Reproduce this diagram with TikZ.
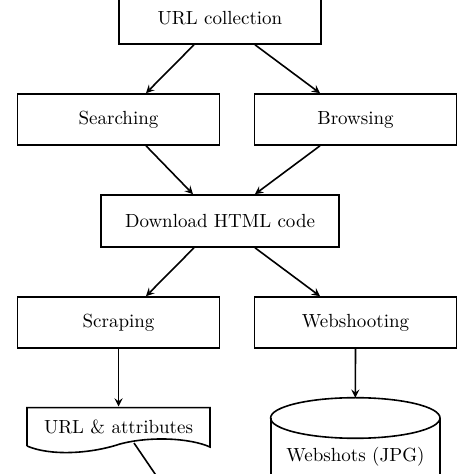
\documentclass[tikz,border=0pt]{standalone}
\usepackage{amsmath}
\usepackage{amssymb}
\usepackage{tikz}

\begin{document}
\begin{tikzpicture}[x=0.5pt,y=0.5pt,>=stealth,line width=0.8pt,
        every node/.style={font=\fontsize{9.5}{11}\selectfont},
        box/.style={draw,minimum width=101pt,minimum height=25.5pt,inner sep=0pt}]
        \useasboundingbox (0,0) rectangle (474,474);

        \node[box] (Url) at (220,455.5) {URL collection};
        \node[box] (Search) at (118.5,354.5) {Searching};
        \node[box] (Browse) at (355.5,354.5) {Browsing};
        \node[box,minimum width=119pt,minimum height=26pt] (Html) at (220,253) {Download HTML code};
        \node[box] (Scrape) at (118.5,151.5) {Scraping};
        \node[box] (Shoot) at (355.5,151.5) {Webshooting};

        % document shape
        \node[minimum width=91.5pt,minimum height=19.5pt,inner sep=0pt] (Attr) at (118.5,47.2) {URL \& attributes};
        \draw (27,28) -- (27,66.3) -- (210,66.3) -- (210,27)
            .. controls (190,36) and (150,38) .. (120,30)
            .. controls (90,20) and (50,18) .. (27,28);
        \coordinate (AttrOut) at (134,31);
        \coordinate (Next) at (166,-16);

        % cylinder
        \draw (270.7,56) -- (270.7,-40);
        \draw (440,56) -- (440,-40);
        \draw (355.3,56) ellipse [x radius=42.35pt,y radius=10.15pt];
        \coordinate (ShotsTop) at (355.3,76.3);
        \node (Shots) at (355.5,17.3) {Webshots (JPG)};

        \draw[->] ([xshift=-13pt]Url.south) -- ([xshift=13.75pt]Search.north);
        \draw[->] ([xshift=17.5pt]Url.south) -- ([xshift=-17.75pt]Browse.north);
        \draw[->] ([xshift=13.75pt]Search.south) -- ([xshift=-13.5pt]Html.north);
        \draw[->] ([xshift=-17.75pt]Browse.south) -- ([xshift=17.5pt]Html.north);
        \draw[->] ([xshift=-13pt]Html.south) -- ([xshift=13.75pt]Scrape.north);
        \draw[->] ([xshift=17.5pt]Html.south) -- ([xshift=-17.75pt]Shoot.north);
        \draw[->] (Scrape.south) -- (Attr.north);
        \draw[->] (Shoot.south) -- (ShotsTop);
        \draw[->] (AttrOut) -- (Next);
    \end{tikzpicture}
\end{document}
